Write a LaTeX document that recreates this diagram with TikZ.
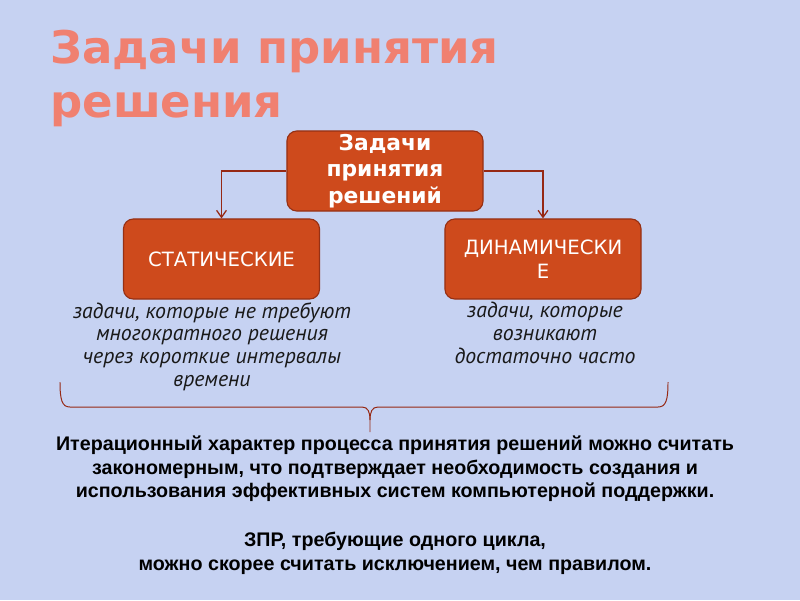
\documentclass[tikz,border=0pt]{standalone}
\usepackage{fontspec}
\setmainfont{DejaVu Sans}
\newfontfamily\noteit{PT Sans}
\newfontfamily\bodyfont{Liberation Sans}
\usetikzlibrary{arrows.meta}

\definecolor{slidebg}{RGB}{198,210,242}
\definecolor{titlered}{RGB}{240,128,112}
\definecolor{boxfill}{RGB}{206,74,28}
\definecolor{boxline}{RGB}{150,48,20}
\definecolor{linkred}{RGB}{150,40,20}

\tikzset{
  taskbox/.style={draw=boxline,line width=0.8pt,fill=boxfill,rounded corners=7pt,
    text=white,align=center,minimum width=4.9cm,minimum height=2cm,inner sep=0pt},
  link/.style={draw=linkred,line width=0.9pt,-{Straight Barb[length=5pt,width=7pt]}},
  note/.style={align=center,inner sep=0pt,anchor=north,text=black!90,
    font=\noteit\itshape\fontsize{15.5}{16.2}\selectfont},
  brace/.style={draw=linkred,line width=0.7pt}
}

\begin{document}
\begin{tikzpicture}[x=0.025cm,y=-0.025cm]
\fill[slidebg] (0,0) rectangle (800,600);
\node[anchor=base west,inner sep=0pt,text=titlered,font=\bfseries\fontsize{32}{38}\selectfont] (title1) at (50,63) {Задачи принятия};
\node[anchor=base west,inner sep=0pt,text=titlered,font=\bfseries\fontsize{32}{38}\selectfont] (title2) at (50,117) {решения};
\node[taskbox,font=\bfseries\fontsize{15.5}{19}\selectfont] (tasks) at (385,171) {Задачи\\принятия\\решений};
\node[taskbox,font=\fontsize{14}{17}\selectfont] (static) at (221.5,259) {СТАТИЧЕСКИЕ};
\node[taskbox,font=\fontsize{14}{17}\selectfont] (dynamic) at (543,259) {ДИНАМИЧЕСКИ\\Е};
\draw[link] (tasks.west) -| (static.north);
\draw[link] (tasks.east) -| (dynamic.north);
\node[note] (staticnote) at (212,302) {задачи, которые не требуют\\многократного решения\\через короткие интервалы\\времени};
\node[note] (dynamicnote) at (545,302) {задачи, которые\\возникают\\достаточно часто};
% brace under both notes
\coordinate (braceL) at (60,382);
\coordinate (braceR) at (668,382);
\coordinate (braceTip) at (370,432);
\draw[brace] (braceL) .. controls (60,400) and (62,407) .. (70,407) -- (362,407)
  .. controls (368,407) and (370,412) .. (370,420) -- (braceTip);
\draw[brace] (braceR) .. controls (668,400) and (666,407) .. (658,407) -- (378,407)
  .. controls (372,407) and (370,412) .. (370,420);
\node[anchor=north,align=center,inner sep=0pt,font=\bodyfont\bfseries\fontsize{14}{16.7}\selectfont] (conclusion) at (395,436) {Итерационный характер процесса принятия решений можно считать\\закономерным, что подтверждает необходимость создания и\\использования эффективных систем компьютерной поддержки.};
\node[anchor=north,align=center,inner sep=0pt,font=\bodyfont\bfseries\fontsize{14}{16.7}\selectfont] (exception) at (395,532) {ЗПР, требующие одного цикла,\\можно скорее считать исключением, чем правилом.};
\end{tikzpicture}
\end{document}
